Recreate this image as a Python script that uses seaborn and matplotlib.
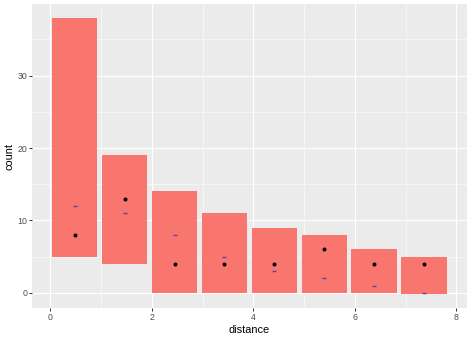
import matplotlib
matplotlib.use("Agg")
import matplotlib.pyplot as plt
import seaborn as sns
import pandas as pd

# bin centres along distance
distance = [0.48, 1.464, 2.448, 3.432, 4.416, 5.40, 6.384, 7.368]
# floating bar ranges
bar_low = [5, 4, 0, 0, 0, 0, 0, -0.2]
bar_high = [38, 19, 14, 11, 9, 8, 6, 5]
# black points
point_count = [8, 13, 4, 4, 4, 6, 4, 4]
# purple dashes
dash_count = [12, 11, 8, 5, 3, 2, 1, 0]

sns.set_theme(style="darkgrid", rc={
    "axes.facecolor": "#EBEBEB",
    "grid.color": "white",
    "axes.edgecolor": "white",
})
plt.rcParams['font.family'] = ['Liberation Sans', 'DejaVu Sans']

df = pd.DataFrame({
    "distance": distance,
    "low": bar_low,
    "high": bar_high,
    "point": point_count,
    "dash": dash_count,
})
df["height"] = df["high"] - df["low"]

fig = plt.figure(figsize=(474 / 72, 338 / 72), dpi=72)
ax = fig.add_axes([32 / 474, (338 - 308) / 338, (467 - 32) / 474, (308 - 4) / 338])

sns.barplot(data=df, x="distance", y="height", bottom=df["low"].values,
            native_scale=True, width=0.915, color="#F8766D", saturation=1,
            errorbar=None, linewidth=0, ax=ax)
sns.scatterplot(data=df, x="distance", y="point", color="black", s=16,
                linewidth=0, ax=ax, zorder=3)
sns.scatterplot(data=df, x="distance", y="dash", color="#6040B0", marker="_",
                s=22, linewidth=1.4, ax=ax, zorder=3)

ax.set_xlim(-0.36, 8.21)
ax.set_ylim(-2.1, 39.9)
ax.set_xticks([0, 2, 4, 6, 8])
ax.set_yticks([0, 10, 20, 30])
ax.set_xticks([1, 3, 5, 7], minor=True)
ax.set_yticks([5, 15, 25, 35], minor=True)
ax.grid(True, which="major", color="white", linewidth=1.1)
ax.grid(True, which="minor", color="white", linewidth=0.55)
ax.set_axisbelow(True)
for s in ax.spines.values():
    s.set_visible(False)

ax.tick_params(which="major", direction="out", length=2.75, width=1.0,
               color="#333333", labelcolor="#4D4D4D", labelsize=8.8, pad=2.2,
               bottom=True, left=True)
ax.tick_params(which="minor", length=0)
ax.set_xlabel("distance", fontsize=11, color="black", labelpad=3)
ax.set_ylabel("count", fontsize=11, color="black", labelpad=3)

fig.savefig("out.png", dpi=72)
